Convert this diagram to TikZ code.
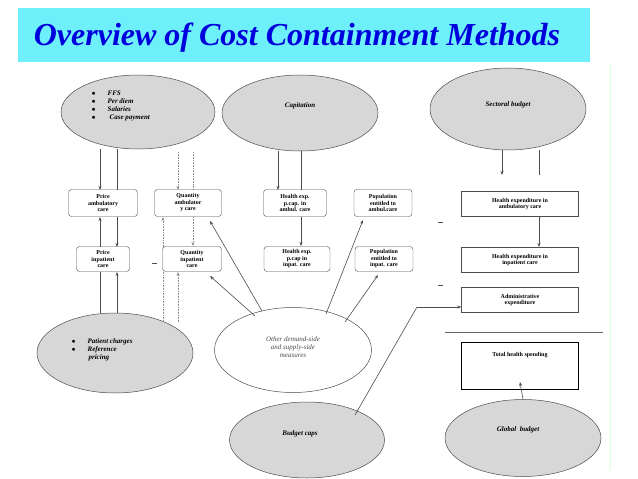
\documentclass[tikz,border=0pt]{standalone}
\usepackage{fontspec}
\setmainfont{Liberation Serif}
\usetikzlibrary{arrows.meta,shapes.geometric}
\definecolor{banner}{RGB}{110,240,250}
\definecolor{ttl}{RGB}{0,0,220}
\definecolor{ellg}{RGB}{215,215,215}
\tikzset{
 ell/.style={ellipse,draw=black!70,fill=ellg,line width=0.5pt},
 bx/.style={draw=black!70,rounded corners=3pt,minimum width=#1,minimum height=27pt,inner sep=1pt,align=center,font=\fontsize{6}{6.5}\selectfont\bfseries},
 rbx/.style={draw=black!70,minimum width=117pt,minimum height=25pt,inner sep=1pt,align=center,font=\fontsize{6}{6.5}\selectfont\bfseries},
 ln/.style={draw=black!70,line width=0.6pt},
 ar/.style={ln,-{Stealth[length=4pt,width=3pt]}},
 dt/.style={draw=black!45,densely dotted,line width=0.6pt},
 dar/.style={dt,-{Stealth[length=4pt,width=3pt]}},
 lab/.style={font=\fontsize{7}{8}\selectfont\bfseries\itshape,align=left},
 elab/.style={font=\fontsize{7}{8}\selectfont\bfseries\itshape},
}
\begin{document}
\begin{tikzpicture}[x=1pt,y=-1pt]
\useasboundingbox (0,0) rectangle (638,479);
\fill[white] (0,0) rectangle (638,479);
\fill[banner] (18,8) rectangle (590,62);
\node[font=\fontsize{32}{33}\selectfont\bfseries\itshape,text=ttl] (title) at (297,38) {Overview of Cost Containment Methods};
\draw[green!15!white,line width=1pt] (610,64) -- (610,470);
% ellipses
\node[ell,minimum width=154pt,minimum height=74pt] (ffs) at (138,112) {};
\node[lab,anchor=west] (ffst) at (88,106) {$\bullet$\hspace{12pt}FFS\\$\bullet$\hspace{12pt}Per diem\\$\bullet$\hspace{12pt}Salaries\\$\bullet$\hspace{14pt}Case payment};
\node[ell,minimum width=156pt,minimum height=76pt] (cap) at (300,113) {};
\node[elab] (capt) at (300,106) {Capitation};
\node[ell,minimum width=156pt,minimum height=82pt] (sec) at (508,109) {};
\node[elab] (sect) at (508,105) {Sectoral budget};
\node[ell,minimum width=156pt,minimum height=80pt] (pat) at (115,353) {};
\node[lab,anchor=west] (patt) at (68,350) {$\bullet$\hspace{12pt}Patient charges\\$\bullet$\hspace{12pt}Reference\\\hspace*{17pt}pricing};
\node[ell,fill=white,minimum width=157pt,minimum height=85pt] (oth) at (293,350) {};
\node[font=\fontsize{7}{8}\selectfont\itshape,align=center,text=black!70] (otht) at (293,347) {Other demand-side\\and supply-side\\measures};
\node[ell,minimum width=155pt,minimum height=76pt] (bcap) at (307,440) {};
\node[elab] (bcapt) at (300,434) {Budget caps};
\node[ell,minimum width=156pt,minimum height=77pt] (glob) at (523,438) {};
\node[elab] (globt) at (518,430) {Global\ \ budget};
% boxes
\node[bx=69pt] (pa) at (103,203) {Price\\ambulatory\\care};
\node[bx=67pt] (qa) at (188,203) {Quantity\\ambulator\\y  care};
\node[bx=63pt] (ha) at (295,203) {Health exp.\\p.cap.  in\\ambul. care};
\node[bx=58pt] (popa) at (383,203) {Population\\entitled to\\ambul.care};
\node[bx=53pt,minimum height=25pt] (pi) at (103,259) {Price\\inpatient\\care};
\node[bx=59pt,minimum height=25pt] (qi) at (192,259) {Quantity\\inpatient\\care};
\node[bx=66pt,minimum height=25pt] (hi) at (297,259) {Health exp.\\p.cap in\\inpat. care};
\node[bx=58pt,minimum height=25pt] (popi) at (384,259) {Population\\entitled to\\inpat. care};
\node[rbx] (ra) at (520,204) {Health expenditure in\\ambulatory care};
\node[rbx] (ri) at (520,260) {Health expenditure in\\inpatient care};
\node[rbx] (adm) at (520,300) {Administrative\\expenditure};
\draw[black!60,line width=0.6pt] (445,332) -- (603,332);
\node[draw,line width=1.6pt,minimum width=117pt,minimum height=47pt] (tot) at (520,366) {};
\node[font=\fontsize{6}{7}\selectfont\bfseries] (tott) at (520,355) {Total health spending};
% FFS connectors
\draw[ar] (100,149) -- (100,190);
\draw[ln] (117,149) -- (117,190);
\draw[ar] (100,247) -- (100,217);
\draw[ar] (117,217) -- (117,247);
\draw[ln] (100,313) -- (100,272);
\draw[ar] (117,313) -- (117,272);
% quantity dotted
\draw[dar] (178,152) -- (178,190);
\draw[dt] (193,152) -- (193,190);
\draw[dar] (163,247) -- (163,217);
\draw[dar] (193,217) -- (193,246);
\draw[dt] (163,322) -- (163,272);
\draw[dar] (178,322) -- (178,272);
\draw[ln] (152,263) -- (157,263);
% capitation
\draw[ar] (278,151) -- (278,190);
\draw[ln] (301,151) -- (301,190);
\draw[ar] (301,217) -- (301,246);
% sectoral
\draw[ar] (502,150) -- (502,175);
\draw[ln] (539,150) -- (539,175);
\draw[ar] (539,217) -- (539,247);
\draw[ln] (438,222) -- (443,222);
\draw[ln] (438,285) -- (443,285);
% other measures
\draw[ar] (262,311) -- (210,221);
\draw[ar] (255,316) -- (210,276);
\draw[ar] (326,314) -- (363,220);
\draw[ar] (345,322) -- (378,275);
% budget caps
\coordinate (bk) at (417,307);
\draw[ln] (355,415) -- (bk);
\draw[ar] (bk) -- (adm.west |- bk);
% global
\draw[ar] (glob.north) -- (520,382);
\end{tikzpicture}
\end{document}
